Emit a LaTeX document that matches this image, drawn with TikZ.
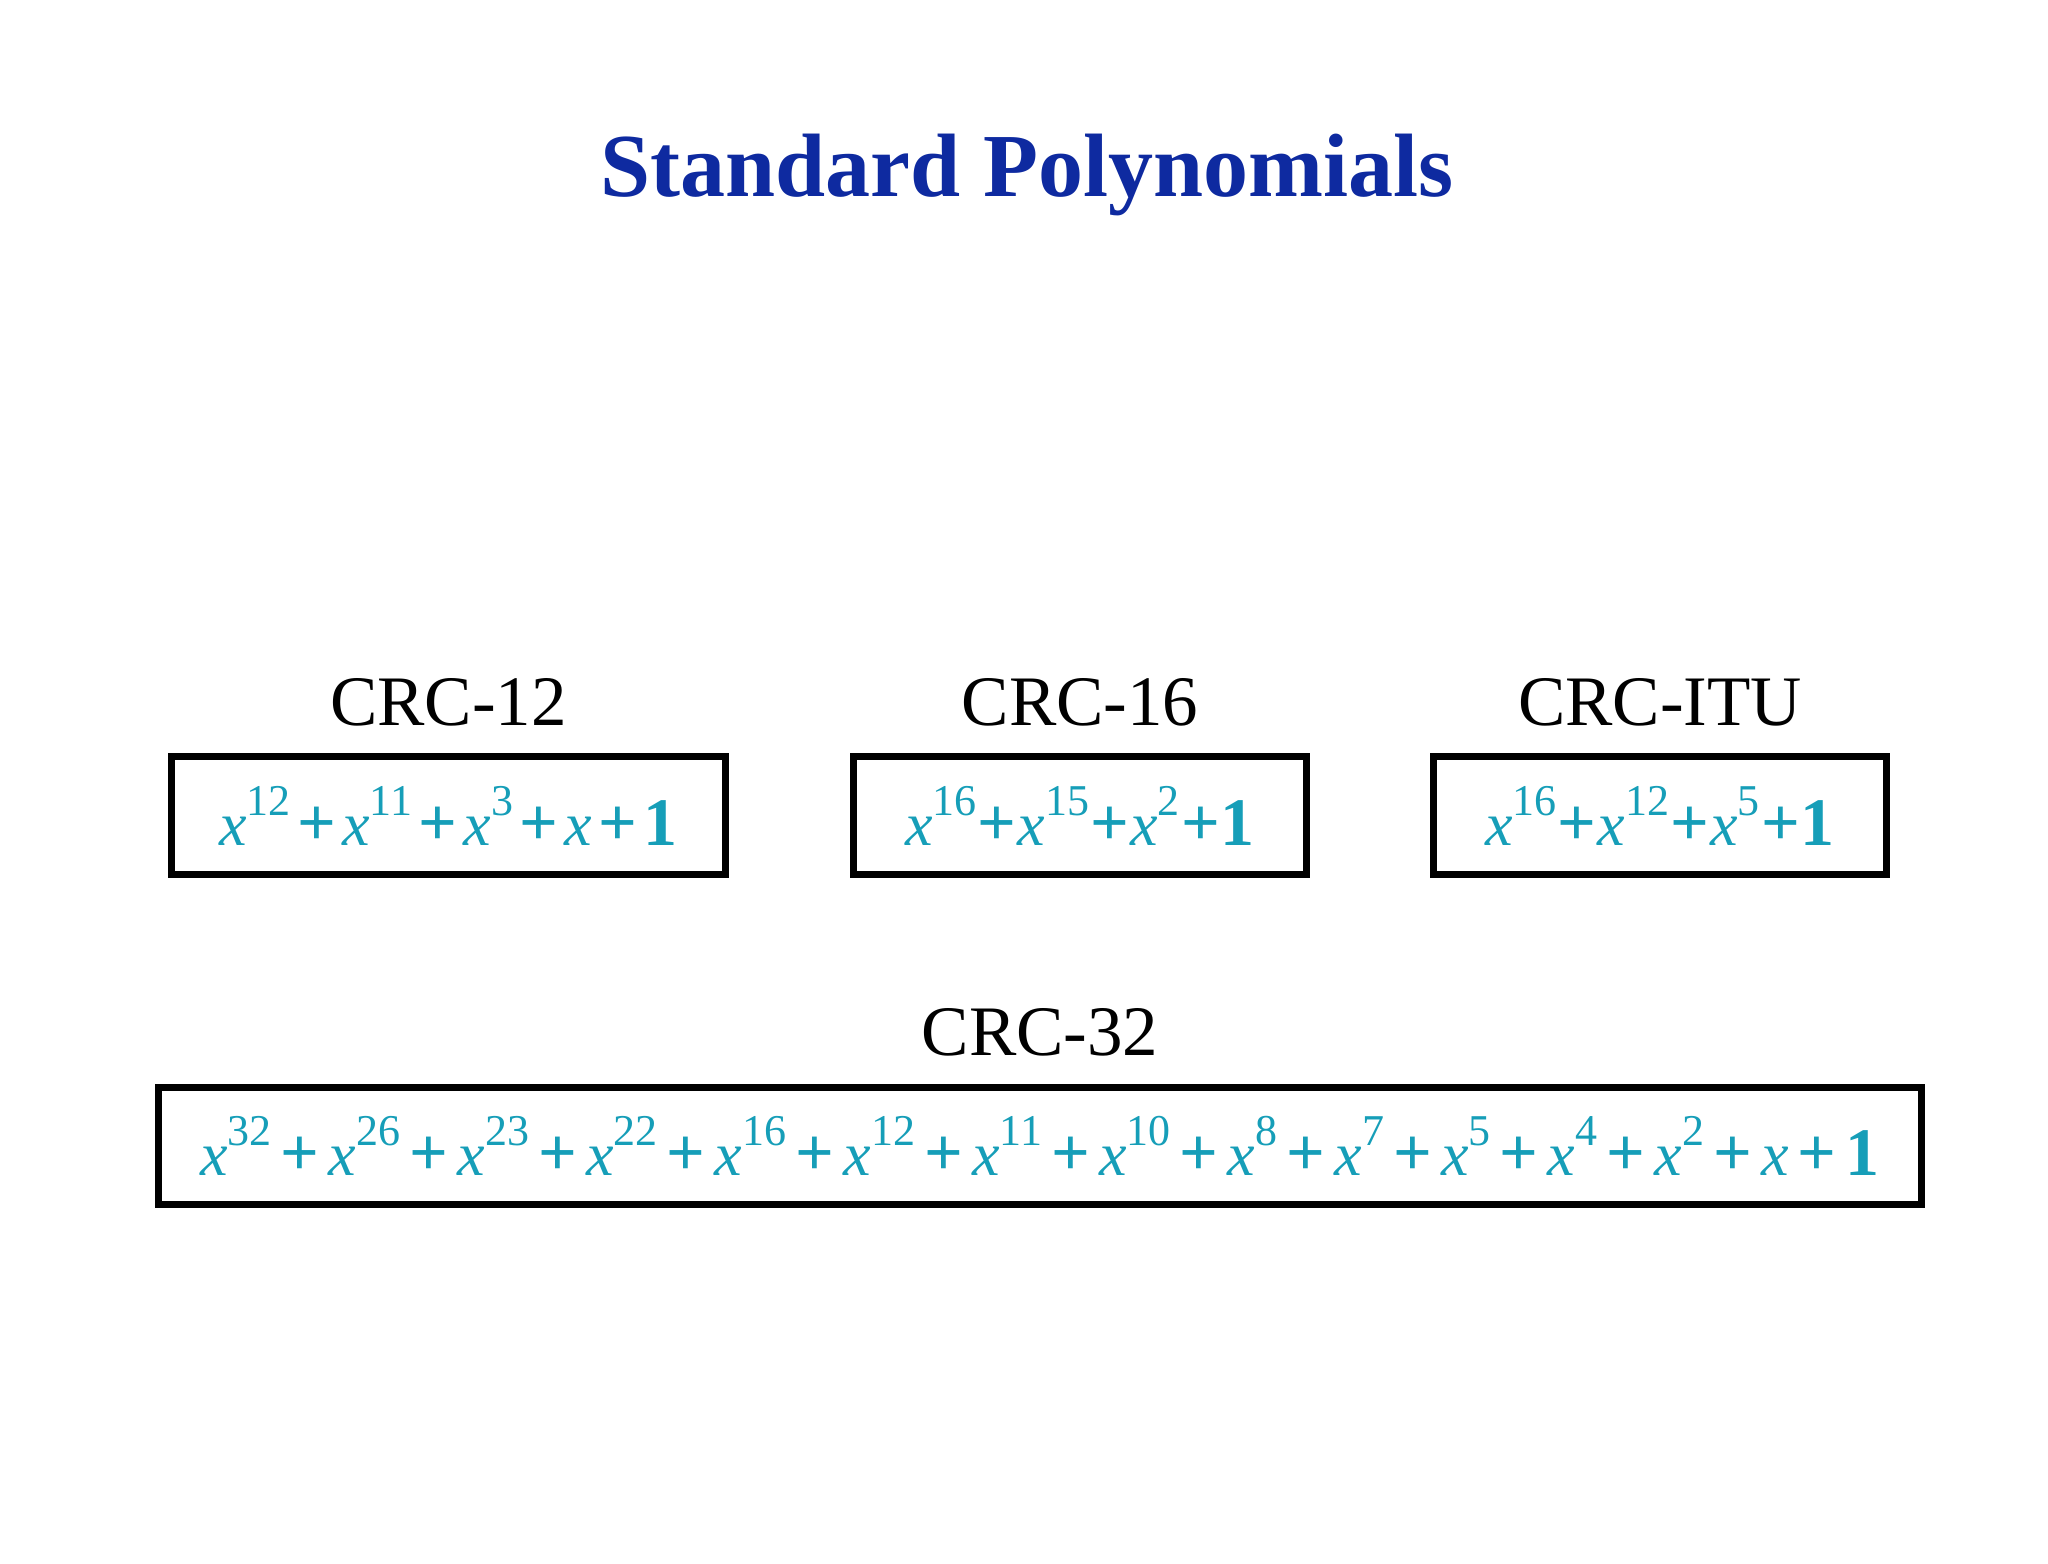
\documentclass[tikz,border=0pt]{standalone}
\usepackage{fontspec}
\setmainfont{Liberation Serif}
\definecolor{titleblue}{RGB}{14,42,160}
\definecolor{polyteal}{RGB}{22,158,184}
\newlength\plsp
\setlength\plsp{2.7pt}
\newcommand\xp[1]{{\fontsize{31}{31}\selectfont\textit{x}}\raisebox{15pt}{\fontsize{22}{22}\selectfont #1}}
\newcommand\xx{{\fontsize{31}{31}\selectfont\textit{x}}}
\newcommand\pl{\hspace{\plsp}\textbf{+}\hspace{\plsp}}
\begin{document}
\begin{tikzpicture}[x=0.5pt,y=-0.5pt,
  polybox/.style={draw=black,line width=3.5pt,inner sep=0pt,
    text=polyteal,font=\fontsize{34}{34}\selectfont},
  crclabel/.style={anchor=base,inner sep=0pt,font=\fontsize{35.5}{35.5}\selectfont},
  titletext/.style={anchor=base,inner sep=0pt,text=titleblue,font=\fontsize{45}{45}\selectfont\bfseries}]
\useasboundingbox (0,0) rectangle (2048,1563);
\node[titletext] (title) at (1027,196) {Standard Polynomials};

\node[polybox,minimum width=277pt,minimum height=59pt] (b12) at (448.5,815.5)
  {\setlength\plsp{3.2pt}\xp{12}\pl\xp{11}\pl\xp{3}\pl\xx\pl\textbf{1}};
\node[polybox,minimum width=226.5pt,minimum height=59pt] (b16) at (1080,815.5)
  {\setlength\plsp{0.6pt}\xp{16}\pl\xp{15}\pl\xp{2}\pl\textbf{1}};
\node[polybox,minimum width=226.5pt,minimum height=59pt] (bitu) at (1660,815.5)
  {\setlength\plsp{0.6pt}\xp{16}\pl\xp{12}\pl\xp{5}\pl\textbf{1}};
\node[polybox,minimum width=881.5pt,minimum height=58.5pt] (b32) at (1040,1146)
  {\setlength\plsp{4.6pt}\xp{32}\pl\xp{26}\pl\xp{23}\pl\xp{22}\pl\xp{16}\pl\xp{12}\pl\xp{11}\pl\xp{10}\pl\xp{8}\pl\xp{7}\pl\xp{5}\pl\xp{4}\pl\xp{2}\pl\xx\pl\textbf{1}};

\node[crclabel] (l12) at (448.5,725) {CRC-12};
\node[crclabel] (l16) at (1080,725) {CRC-16};
\node[crclabel] (litu) at (1660,725) {CRC-ITU};
\node[crclabel] (l32) at (1040,1055) {CRC-32};
\end{tikzpicture}
\end{document}
